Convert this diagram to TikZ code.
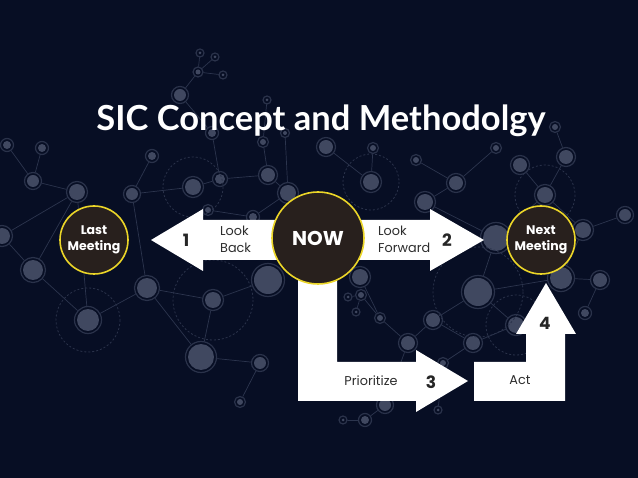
\documentclass[tikz,border=0pt]{standalone}
\usepackage{fontspec}
\setmainfont{Poppins}
\newfontfamily\titlefont{Lato}
\definecolor{bgnavy}{RGB}{7,14,36}
\definecolor{dotgrey}{RGB}{64,72,96}
\definecolor{ringgrey}{RGB}{42,50,74}
\definecolor{linkgrey}{RGB}{44,53,78}
\definecolor{meetfill}{RGB}{40,32,29}
\definecolor{meetring}{RGB}{236,214,40}
\definecolor{labelgrey}{RGB}{45,45,45}
% background network: name/x/y/radius
\def\dotlist{a1/200/53/1.5, a2/215/57/1.5, a3/198/72/2.5, a4/223/75/1.5, a5/180/95/6,
  a6/212/133/4, a7/267/100/1.5, a8/285/133/2, a9/263/142/3,
  b1/7/145/4, b2/42/148/4, b3/33/181/6, b4/77/192/8, b5/152/156/4, b6/132/194/6,
  b7/193/187/8, b8/220/179/5, b9/268/175/7, b10/288/193/8, b11/2/236/8, b12/33/270/10,
  b13/147/288/10, b14/213/300/8, b15/88/320/11, b16/201/357/13, b17/260/363/6,
  b18/240/402/3, b19/208/210/3, b20/253/217/4, b21/268/280/14,
  c1/326/147/7, c2/373/148/3, c3/371/182/8, c4/416/160/3, c5/456/183/7, c6/425/202/8,
  c7/496/148/3, c8/520/165/7, c9/555/127/3, c10/566/157/7, c11/545/195/8, c12/496/238/13,
  c13/583/230/8, c14/625/215/6, c15/478/292/14, c16/561/278/11, c17/600/280/7,
  c18/585/313/4, c19/433/320/7, c20/516/325/8, c21/473/343/7, c22/408/343/7,
  c23/380/318/3, c24/361/295/3, c25/348/297/1.5, c26/356/312/1.5, c27/360/277/8,
  c28/443/363/3, c29/385/405/6, c30/365/420/4, c31/343/420/1.5, c32/438/410/1.5}

\begin{document}
\begin{tikzpicture}[x=1pt,y=-1pt,
    link/.style={draw=linkgrey, line width=0.7pt},
    halo/.style={draw=ringgrey, line width=1.2pt},
    dashring/.style={draw=ringgrey, line width=0.8pt, dash pattern=on 2pt off 2pt},
    blockarrow/.style={fill=white},
    meeting/.style={circle, fill=meetfill, draw=meetring, line width=1.6pt, minimum size=68pt,
      inner sep=0pt, text=white, align=center, font=\bfseries\fontsize{12.5}{15.5}\selectfont},
    stepnum/.style={text=black!85, font=\bfseries\fontsize{17}{17}\selectfont},
    steptext/.style={text=labelgrey, inner sep=0pt, align=left, font=\fontsize{12.8}{17}\selectfont}]
    \useasboundingbox (0,0) rectangle (638,478);
    \fill[bgnavy] (0,0) rectangle (638,478);
    % network in the back
    \foreach \n/\x/\y/\r in \dotlist
        \coordinate (\n) at (\x,\y);
    \foreach \p/\q in {a1/a3, a2/a3, a4/a3, a3/a5, a5/a6, a6/b8, a7/a9, a9/b9, a8/b10,
        b1/b3, b2/b3, b3/b4, b4/b11, b11/b12, b12/b15, b4/b15, b5/b6, b6/b7, b7/b8, b8/b9,
        b9/b10, b6/b13, b13/b15, b13/b14, b13/b16, b14/b16, b14/b21, b16/b17, b17/b18,
        b19/b20, b10/b20, b12/b4,
        c1/c3, c2/c3, c4/c5, c5/c7, c5/c6, c6/c12, c8/c11, c9/c10, c10/c11, c11/c13,
        c12/c15, c12/c11, c13/c14, c13/c16, c16/c17, c17/c18, c15/c19, c15/c20, c15/c16,
        c19/c22, c19/c21, c21/c20, c22/c23, c23/c24, c24/c25, c24/c26, c27/c23, c22/c29,
        c29/c30, c30/c31, c28/c21, c28/c32}
        \draw[link] (\p) -- (\q);
    \foreach \n/\x/\y/\r in \dotlist {
        \fill[bgnavy] (\n) circle (\r+3);
        \fill[dotgrey] (\n) circle (\r);
        \draw[halo] (\n) circle (\r+2.5);
    }
    \foreach \n/\s in {b7/30, b15/32, b14/40, c3/28, c11/30, c15/45, c20/30}
        \draw[dashring] (\n) circle (\s);

    \node[text=white, anchor=base, font=\titlefont\bfseries\fontsize{34.5}{34.5}\selectfont] (title) at (321,131) {SIC Concept and Methodolgy};

    % block arrows
    \fill[blockarrow] (318,220) -- (203,220) -- (203,209) -- (151,240) -- (203,271) -- (203,260) -- (318,260) -- cycle;
    \fill[blockarrow] (318,220) -- (430,220) -- (430,209) -- (484,240) -- (430,271) -- (430,260) -- (318,260) -- cycle;
    \fill[blockarrow] (298,240) -- (337,240) -- (337,362) -- (416,362) -- (416,350) -- (468,381) -- (416,412) -- (416,401) -- (298,401) -- cycle;
    \fill[blockarrow] (474,362) -- (526,362) -- (526,334) -- (516,334) -- (546,283) -- (576,334) -- (565,334) -- (565,401) -- (474,401) -- cycle;

    \node[meeting] (last) at (94,240) {Last\\Meeting};
    \node[meeting, minimum size=92pt, font=\bfseries\fontsize{20}{20}\selectfont] (now) at (318,238) {NOW};
    \node[meeting] (next) at (541,240) {Next\\Meeting};

    \node[stepnum] (one) at (186,240) {1};
    \node[steptext, anchor=west] (back) at (220,239) {Look\\Back};
    \node[steptext, anchor=west] (forward) at (378,239) {Look\\Forward};
    \node[stepnum] (two) at (447,240) {2};
    \node[steptext] (prioritize) at (371,381) {Prioritize};
    \node[stepnum] (three) at (431,382) {3};
    \node[steptext] (act) at (520,380) {Act};
    \node[stepnum] (four) at (545,323) {4};
\end{tikzpicture}
\end{document}
